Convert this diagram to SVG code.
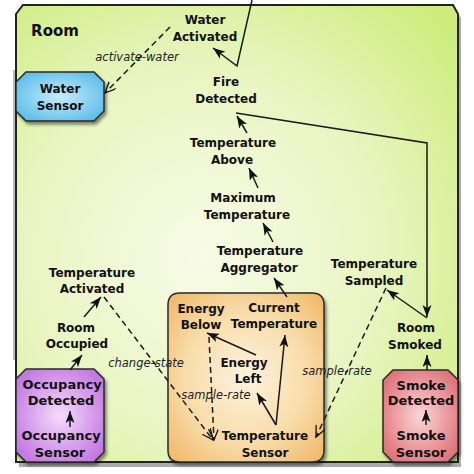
<svg xmlns="http://www.w3.org/2000/svg" width="474" height="474" viewBox="0 0 474 474">
<defs>
<radialGradient id="gRoom" cx="0.42" cy="0.55" r="0.75">
<stop offset="0" stop-color="#f8fbe8"/>
<stop offset="0.55" stop-color="#e8f5c0"/>
<stop offset="1" stop-color="#cdec7c"/>
</radialGradient>
<radialGradient id="gBlue" cx="0.5" cy="0.5" r="0.6">
<stop offset="0" stop-color="#c8ecfb"/>
<stop offset="1" stop-color="#5cbde9"/>
</radialGradient>
<radialGradient id="gPurple" cx="0.5" cy="0.5" r="0.6">
<stop offset="0" stop-color="#f6dcfb"/>
<stop offset="1" stop-color="#c277e2"/>
</radialGradient>
<radialGradient id="gRed" cx="0.5" cy="0.5" r="0.6">
<stop offset="0" stop-color="#fbd6d6"/>
<stop offset="1" stop-color="#e0727a"/>
</radialGradient>
<radialGradient id="gOrange" cx="0.5" cy="0.5" r="0.65">
<stop offset="0" stop-color="#fdf3de"/>
<stop offset="0.6" stop-color="#f9dcaa"/>
<stop offset="1" stop-color="#f2bc70"/>
</radialGradient>
<filter id="sh" x="-10%" y="-10%" width="130%" height="130%">
<feDropShadow dx="2" dy="3" stdDeviation="1.5" flood-color="#000" flood-opacity="0.45"/>
</filter>
<marker id="aS" markerUnits="userSpaceOnUse" markerWidth="13" markerHeight="10" refX="12" refY="4.5" orient="auto">
<path d="M0,0 L12,4.5 L0,9 L3,4.5 Z" fill="#111"/>
</marker>
<marker id="aO" markerUnits="userSpaceOnUse" markerWidth="13" markerHeight="12" refX="11" refY="5" orient="auto">
<path d="M0,0 L11,5 L0,10" fill="none" stroke="#111" stroke-width="1.3"/>
</marker>
</defs>
<style>
.t{font-family:"DejaVu Sans","Liberation Sans",sans-serif;font-weight:bold;font-size:12px;fill:#111;text-anchor:middle}
.t13{font-size:13px}
.lbl{font-family:"DejaVu Sans","Liberation Sans",sans-serif;font-style:italic;font-size:11.5px;fill:#222;text-anchor:middle}
.ln{fill:none;stroke:#1a1a1a;stroke-width:1.5}
.solid{marker-end:url(#aS)}
.dash{stroke-dasharray:6,4;marker-end:url(#aO)}
.box{stroke:#2a2a2a;stroke-width:1.5}
</style>
<rect x="0" y="0" width="474" height="474" fill="#ffffff"/>
<line x1="14" y1="70" x2="14" y2="360" stroke="#bbb" stroke-width="2"/>
<g id="room">
<path d="M19,9 L455,9 L461,18 L461,467 L19,467 Z" fill="#666" opacity="0.55"/>
<path d="M23,5 L453,5 L458,14 L458,462 L16,462 L16,14 Z" fill="url(#gRoom)" stroke="#222" stroke-width="2"/>
<text x="55" y="36" class="t" style="font-size:15px">Room</text>
</g>
<g id="water-sensor">
<path d="M26,72 L94,72 L104,82 L104,111 L94,121 L26,121 L16,111 L16,82 Z" class="box" fill="url(#gBlue)" filter="url(#sh)"/>
<text class="t" x="60" y="93">Water</text>
<text class="t" x="60" y="110">Sensor</text>
</g>
<g id="water-activated">
<text class="t" x="205" y="24">Water</text>
<text class="t" x="205" y="41">Activated</text>
</g>
<g id="fire-detected">
<text class="t" x="226" y="86">Fire</text>
<text class="t" x="226" y="103">Detected</text>
</g>
<g id="temperature-above">
<text class="t" x="233" y="147">Temperature</text>
<text class="t" x="232" y="164">Above</text>
</g>
<g id="maximum-temperature">
<text class="t" x="243" y="202">Maximum</text>
<text class="t" x="247" y="219">Temperature</text>
</g>
<g id="temperature-aggregator">
<text class="t" x="260" y="255">Temperature</text>
<text class="t" x="259" y="272">Aggregator</text>
</g>
<g id="temperature-sampled">
<text class="t" x="374" y="268">Temperature</text>
<text class="t" x="374" y="285">Sampled</text>
</g>
<g id="room-smoked">
<text class="t" x="416" y="332">Room</text>
<text class="t" x="415" y="349">Smoked</text>
</g>
<g id="temperature-activated">
<text class="t" x="92" y="277">Temperature</text>
<text class="t" x="92" y="293">Activated</text>
</g>
<g id="room-occupied">
<text class="t" x="76" y="332">Room</text>
<text class="t" x="77" y="348">Occupied</text>
</g>
<g id="occupancy-sensor">
<path d="M26,369 L94,369 L104,379 L104,452 L94,462 L26,462 L16,452 L16,379 Z" class="box" fill="url(#gPurple)" filter="url(#sh)"/>
<text class="t t13" x="62" y="389">Occupancy</text>
<text class="t t13" x="61" y="405">Detected</text>
<text class="t t13" x="61" y="440">Occupancy</text>
<text class="t t13" x="60" y="457">Sensor</text>
</g>
<g id="smoke-sensor">
<path d="M393,370 L448,370 L458,380 L458,452 L448,462 L393,462 L383,452 L383,380 Z" class="box" fill="url(#gRed)" filter="url(#sh)"/>
<text class="t t13" x="421" y="390">Smoke</text>
<text class="t t13" x="421" y="405">Detected</text>
<text class="t t13" x="421" y="440">Smoke</text>
<text class="t t13" x="421" y="457">Sensor</text>
</g>
<g id="temperature-sensor">
<path d="M180,293 L312,293 Q324,293 324,305 L324,450 Q324,462 312,462 L180,462 Q168,462 168,450 L168,305 Q168,293 180,293 Z" class="box" fill="url(#gOrange)" filter="url(#sh)"/>
<text class="t" x="265" y="440">Temperature</text>
<text class="t" x="265" y="457">Sensor</text>
</g>
<g id="energy-below">
<text class="t" x="201" y="313">Energy</text>
<text class="t" x="201" y="329">Below</text>
</g>
<g id="current-temperature">
<text class="t" x="274" y="312">Current</text>
<text class="t" x="274" y="328">Temperature</text>
</g>
<g id="energy-left">
<text class="t" x="244" y="367">Energy</text>
<text class="t" x="248" y="383">Left</text>
</g>
<g id="connectors">
<path class="ln solid" d="M252,0 L237,66 L213,48"/>
<path class="ln solid" d="M247,133 L237,116"/>
<path class="ln solid" d="M258,188 L249,168"/>
<path class="ln solid" d="M273,242 L263,223"/>
<path class="ln solid" d="M287,297 L274,278"/>
<path class="ln solid" d="M236,113 L427,143 L427,317"/>
<path class="ln solid" d="M427,318 L387,290"/>
<path class="ln solid" d="M427,370 L427,355"/>
<path class="ln solid" d="M426,425 L426,410"/>
<path class="ln solid" d="M70,427 L70,411"/>
<path class="ln solid" d="M70,370 L82,355"/>
<path class="ln solid" d="M84,317 L101,297"/>
<path class="ln solid" d="M256,355 L207,333"/>
<path class="ln solid" d="M276,425 L285,335"/>
<path class="ln solid" d="M276,425 L257,393"/>
<path class="ln dash" d="M170,27 L105,93"/>
<path class="ln dash" d="M104,297 L213,440"/>
<path class="ln dash" d="M209,337 L214,440"/>
<path class="ln dash" d="M386,288 L316,437"/>
<text x="137" y="61" class="lbl">activate-water</text>
<text x="146" y="367" class="lbl">change-state</text>
<text x="216" y="399" class="lbl">sample-rate</text>
<text x="337" y="375" class="lbl">sample-rate</text>
</g>
</svg>
